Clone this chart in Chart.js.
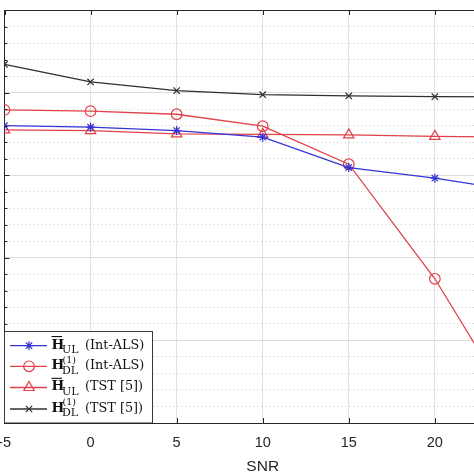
<!DOCTYPE html>
<html>
<head>
<meta charset="utf-8">
<script src="https://cdn.jsdelivr.net/npm/chart.js@4/dist/chart.umd.min.js"></script>
<style>
  html, body { margin: 0; padding: 0; background: #fff; overflow: hidden; width: 474px; height: 474px; }
  #wrap { position: absolute; left: -20px; top: 0; width: 560px; height: 476px; }
</style>
</head>
<body>
<div id="wrap"><canvas id="snrChart" width="560" height="476"></canvas></div>
<script>
// SNR sweep, y in dB (axis labels are cropped in the original)
const snr = [-5, 0, 5, 10, 15, 20, 25];
const ulIntAls = [-14.0, -14.19, -14.6, -15.4, -19.08, -20.36, -22.0];
const dlIntAls = [-12.10, -12.25, -12.62, -14.07, -18.67, -32.54, -49.6];
const ulTst = [-14.52, -14.6, -15.0, -15.06, -15.12, -15.3, -15.4];
const dlTst = [-6.59, -8.71, -9.76, -10.25, -10.40, -10.49, -10.52];

const xTicks = [-5, 0, 5, 10, 15, 20, 25];
const yMajor = [0, -10, -20, -30, -40, -50];

const BLUE = '#3535d6', RED = '#e0414b', BLACK = '#303030', AXIS = '#262626';

const pts = arr => snr.map((x, i) => ({ x, y: arr[i] }));

function ds(data, color, style, r) {
  return {
    data: pts(data), borderColor: color, borderWidth: 1.3,
    pointStyle: style, pointRadius: r, pointHoverRadius: r,
    pointBorderColor: color, pointBackgroundColor: 'rgba(0,0,0,0)', pointBorderWidth: 1.2,
    tension: 0, fill: false
  };
}

// legend rows: marker, color, label parts
const legendRows = [
  { style: 'star', color: BLUE, r: 4.5, bar: true, sup: '', sub: 'UL', tail: '(Int-ALS)' },
  { style: 'circle', color: RED, r: 5.3, bar: false, sup: '(1)', sub: 'DL', tail: '(Int-ALS)' },
  { style: 'triangle', color: RED, r: 6, bar: true, sup: '', sub: 'UL', tail: '(TST [5])' },
  { style: 'crossRot', color: BLACK, r: 4.5, bar: false, sup: '(1)', sub: 'DL', tail: '(TST [5])' }
];

const frame = {
  id: 'frame',
  afterDraw(chart) {
    const ctx = chart.ctx, a = chart.chartArea;
    const xs = chart.scales.x, ys = chart.scales.y;
    ctx.save();
    ctx.strokeStyle = AXIS; ctx.lineWidth = 1;
    // top border
    ctx.beginPath(); ctx.moveTo(a.left, a.top + 0.5); ctx.lineTo(a.right, a.top + 0.5); ctx.stroke();
    // inside ticks on x (bottom + top)
    ctx.beginPath();
    xTicks.forEach(v => {
      const px = Math.round(xs.getPixelForValue(v)) + 0.5;
      ctx.moveTo(px, a.bottom); ctx.lineTo(px, a.bottom - 5);
      ctx.moveTo(px, a.top); ctx.lineTo(px, a.top + 5);
    });
    // inside ticks on y (major + minor)
    for (let v = 0; v >= -50; v -= 2) {
      const py = Math.round(ys.getPixelForValue(v)) + 0.5;
      const len = yMajor.includes(v) ? 5 : 3;
      ctx.moveTo(a.left, py); ctx.lineTo(a.left + len, py);
    }
    ctx.stroke();

    // legend box (page coords shifted by wrap offset), bottom sits on the x axis
    const off = 20;
    const bx = 4 + off, by = 331, bw = 148, bh = a.bottom - 331;
    ctx.fillStyle = '#fff';
    ctx.fillRect(bx, by, bw, bh);
    ctx.strokeStyle = AXIS; ctx.lineWidth = 0.9;
    ctx.strokeRect(bx + 0.5, by + 0.5, bw, bh - 0.5);
    const rowY = [345.7, 366.3, 387.5, 409];
    legendRows.forEach((row, i) => {
      const ly = rowY[i];
      ctx.strokeStyle = row.color; ctx.lineWidth = 1.3;
      ctx.beginPath(); ctx.moveTo(10 + off, ly); ctx.lineTo(47 + off, ly); ctx.stroke();
      ctx.lineWidth = 1.2;
      ctx.fillStyle = 'rgba(0,0,0,0)';
      Chart.helpers.drawPoint(ctx, { pointStyle: row.style, radius: row.r, rotation: 0, borderWidth: 1.2 }, 29 + off, ly);
      const base = ly + 2.8;
      ctx.fillStyle = '#111';
      ctx.textBaseline = 'alphabetic';
      ctx.font = 'bold 13.5px "DejaVu Serif"';
      ctx.fillText('H', 51.5 + off, base);
      if (row.bar) {
        ctx.fillRect(51.5 + off, base - 12.5, 10.5, 1.1);
      }
      ctx.font = '9.5px "DejaVu Serif"';
      if (row.sup) ctx.fillText(row.sup, 62.5 + off, base - 6.5);
      ctx.font = '11px "DejaVu Serif"';
      ctx.fillText(row.sub, 62 + off, base + 4.5);
      ctx.font = '12.8px "DejaVu Serif"';
      ctx.fillText(row.tail, 85 + off, base);
    });
    ctx.restore();
  }
};

new Chart(document.getElementById('snrChart'), {
  type: 'line',
  data: {
    datasets: [
      ds(ulIntAls, BLUE, 'star', 4.5),
      ds(dlIntAls, RED, 'circle', 5.3),
      ds(ulTst, RED, 'triangle', 6),
      ds(dlTst, BLACK, 'crossRot', 4.5)
    ]
  },
  options: {
    responsive: false,
    animation: false,
    events: [],
    layout: { padding: { left: 24.5, top: 10, right: 11, bottom: 0 } },
    plugins: { legend: { display: false }, tooltip: { enabled: false } },
    scales: {
      x: {
        type: 'linear', min: -5, max: 25,
        afterBuildTicks: s => { s.ticks = xTicks.map(v => ({ value: v })); },
        ticks: { color: AXIS, padding: 11, font: { family: '"Liberation Sans", Arial', size: 14.5 } },
        grid: { color: '#e2e2e2', drawTicks: false },
        border: { color: AXIS, width: 1 },
        title: { display: true, text: 'SNR', color: AXIS, padding: { top: -5, bottom: 0 }, font: { family: '"Liberation Sans", Arial', size: 15.5 } }
      },
      y: {
        type: 'linear', min: -50, max: 0,
        ticks: { display: false, stepSize: 2 },
        grid: {
          drawTicks: false,
          color: c => (c.tick && c.tick.value % 10 === 0) ? '#dedede' : '#cdcdcd'
        },
        border: {
          color: AXIS, width: 1,
          dash: c => (c.tick && c.tick.value % 10 !== 0) ? [1, 3] : []
        }
      }
    }
  },
  plugins: [frame]
});
</script>
</body>
</html>
